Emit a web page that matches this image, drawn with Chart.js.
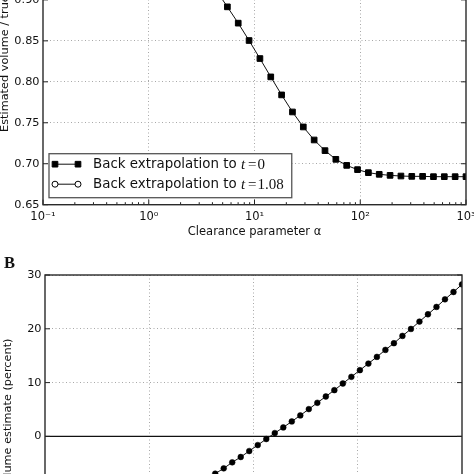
<!DOCTYPE html>
<html><head><meta charset="utf-8">
<script src="https://cdn.jsdelivr.net/npm/chart.js@4.4.0/dist/chart.umd.min.js"></script>
<style>
html,body{margin:0;padding:0;width:474px;height:474px;overflow:hidden;background:#fff;}
#wrapA{position:absolute;left:0;top:-130px;width:474px;height:370px;}
#wrapB{position:absolute;left:0;top:250px;width:474px;height:400px;}
#labB{position:absolute;left:4px;top:255px;font:bold 16.5px "Liberation Serif";line-height:16.5px;color:#111;}
</style></head><body>
<div id="wrapA"><canvas id="cA" width="474" height="370" style="width:474px;height:370px"></canvas></div>
<div id="wrapB"><canvas id="cB" width="474" height="400" style="width:474px;height:400px"></canvas></div>
<div id="labB">B</div>
<script>
// ---------- Panel A data ----------
const alphaA = [0.1,0.1266,0.1604,0.2031,0.2572,0.3257,0.4125,0.5223,0.6615,0.8377,
  1.0608,1.3434,1.7013,2.1544,2.7283,3.4551,4.3755,5.541,7.017,8.886,
  11.253,14.251,18.047,22.855,28.943,36.652,46.416,58.78,74.438,94.267,
  119.38,151.18,191.45,242.45,307.04,388.83,492.39,623.57,789.68,1000];
const volT0 = [0.999,0.999,0.999,0.999,0.999,0.999,0.999,0.998,0.997,0.994,
  0.990,0.984,0.975,0.963,0.948,0.930,0.911,0.8915,0.8716,0.8504,
  0.8284,0.806,0.784,0.7632,0.7449,0.729,0.716,0.7054,0.698,0.6928,
  0.6891,0.6871,0.6858,0.685,0.6846,0.6846,0.6842,0.6842,0.6842,0.6842];
const volT108 = [1.000,1.000,1.000,1.000,0.999,0.999,0.999,0.999,0.998,0.998,
  0.997,0.996,0.995,0.994,0.993,0.991,0.989,0.987,0.985,0.983,
  0.981,0.979,0.977,0.975,0.974,0.972,0.971,0.970,0.969,0.968,
  0.968,0.967,0.967,0.967,0.966,0.966,0.966,0.966,0.966,0.966];
const legendPrefix = ['Back extrapolation to ', 'Back extrapolation to '];
const legendT = ['0', '1.08'];
const yTicksA = {min: 0.65, max: 1.05, step: 0.05};

// ---------- Panel B data ----------
const alphaB = [0.1,0.12068,0.14563,0.17575,0.2121,0.25595,0.30888,0.37276,0.44984,0.54287,
  0.65513,0.7906,0.9541,1.1514,1.3895,1.6768,2.0236,2.4421,2.9471,3.5565,
  4.2919,5.1795,6.2506,7.5431,9.103,10.985,13.257,15.999,19.307,23.3,
  28.118,33.932,40.949,49.417,59.636,71.969,86.851,104.81,126.49,152.64,
  184.21,222.3,268.27,323.75,390.7,471.49,568.99,686.65,828.64,1000];
const errB = [-16.0,-16.0,-16.0,-15.9,-15.9,-15.8,-15.7,-15.6,-15.4,-15.2,
  -14.9,-14.5,-14.0,-13.4,-12.7,-11.9,-11.0,-10.0,-9.0,-8.0,
  -6.93,-5.94,-4.82,-3.83,-2.72,-1.61,-0.49,0.62,1.67,2.78,
  3.90,5.07,6.25,7.42,8.60,9.83,11.07,12.31,13.54,14.78,
  16.08,17.32,18.68,19.97,21.34,22.70,24.06,25.48,26.84,28.26];
const yTicksB = {min: -30, max: 30, step: 10};

// ---------- shared axis labels ----------
const decadeValues = [0.1, 1, 10, 100, 1000];
const decadeLabels = ['10\u207B\u00B9', '10\u2070', '10\u00B9', '10\u00B2', '10\u00B3'];
const mantissas = [2,3,4,5,6,7,8,9];
const xTitle = 'Clearance parameter \u03B1';
const yTitleA = 'Estimated volume / true volume';
const yTitleB = 'Error in volume estimate (percent)';

const FONT = '"DejaVu Sans", sans-serif';
const isDecade = v => Math.abs(Math.log10(v) - Math.round(Math.log10(v))) < 1e-6;
const gridGray = '#a8a8a8';

const framePlugin = {
  id: 'frame',
  beforeDatasetsDraw(chart, args, opts) {
    if (!opts.zeroLine) return;
    const {ctx, chartArea: a, scales: {y}} = chart;
    const py = y.getPixelForValue(0);
    ctx.save();
    ctx.strokeStyle = '#111'; ctx.lineWidth = 1.4;
    ctx.beginPath(); ctx.moveTo(a.left, py); ctx.lineTo(a.right, py); ctx.stroke();
    ctx.restore();
  },
  afterDraw(chart, args, opts) {
    const {ctx, chartArea: a, scales: {x, y}} = chart;
    ctx.save();
    ctx.strokeStyle = '#222'; ctx.lineWidth = 1;
    ctx.beginPath();
    const xs = [];
    decadeValues.forEach(d => xs.push([d, 5]));
    decadeValues.slice(0, -1).forEach(d => mantissas.forEach(m => xs.push([d * m, 2.5])));
    xs.forEach(([v, len]) => {
      const px = x.getPixelForValue(v);
      ctx.moveTo(px, a.bottom); ctx.lineTo(px, a.bottom - len);
      if (opts.topTicks) { ctx.moveTo(px, a.top); ctx.lineTo(px, a.top + len); }
    });
    y.ticks.forEach(t => {
      const py = y.getPixelForValue(t.value);
      ctx.moveTo(a.left, py); ctx.lineTo(a.left + 5, py);
      ctx.moveTo(a.right, py); ctx.lineTo(a.right - 5, py);
    });
    ctx.stroke();
    ctx.strokeStyle = '#2a2a2a'; ctx.lineWidth = 1.4;
    ctx.strokeRect(a.left, a.top, a.right - a.left, a.bottom - a.top);
    ctx.restore();
  }
};

const legendPlugin = {
  id: 'inlegend',
  afterDraw(chart, args, opts) {
    if (!opts.show) return;
    const {ctx, chartArea: a} = chart;
    const ds = chart.data.datasets;
    const sans = '13.4px ' + FONT;
    const serifI = 'italic 15px "Liberation Serif", serif';
    const serif = '15px "Liberation Serif", serif';
    const boxL = a.left + 6, boxB = a.bottom - 7, rowH = 20, boxH = 44;
    const boxT = boxB - boxH;
    ctx.save();
    let maxW = 0;
    const rows = ds.map((d, i) => {
      const m = d.label.match(/^(.*)t=(.*)$/);
      const pre = m[1], val = m[2];
      ctx.font = sans; const w1 = ctx.measureText(pre).width;
      ctx.font = serifI; const w2 = ctx.measureText('t').width;
      ctx.font = serif; const w3 = ctx.measureText('=').width; const w4 = ctx.measureText(val).width;
      const w = w1 + w2 + 3 + w3 + 1 + w4;
      maxW = Math.max(maxW, w);
      return {pre, val, w1, w2, w3};
    });
    const textX = boxL + 44;
    const boxR = textX + maxW + 8;
    ctx.fillStyle = '#fff';
    ctx.fillRect(boxL, boxT, boxR - boxL, boxH);
    ctx.strokeStyle = '#555'; ctx.lineWidth = 1.3;
    ctx.strokeRect(boxL, boxT, boxR - boxL, boxH);
    rows.forEach((r, i) => {
      const d = ds[i];
      const cy = boxT + 10.5 + i * rowH;
      const x0 = boxL + 6, x1 = boxL + 29;
      ctx.strokeStyle = d.borderColor; ctx.lineWidth = d.borderWidth;
      ctx.beginPath(); ctx.moveTo(x0, cy); ctx.lineTo(x1, cy); ctx.stroke();
      [x0, x1].forEach(px => {
        ctx.fillStyle = d.pointBackgroundColor; ctx.strokeStyle = d.pointBorderColor; ctx.lineWidth = 1;
        ctx.beginPath();
        if (d.pointStyle === 'rect') {
          const s = d.pointRadius * Math.SQRT1_2;
          ctx.rect(px - s, cy - s, 2 * s, 2 * s);
        } else {
          ctx.arc(px, cy, d.pointRadius, 0, Math.PI * 2);
        }
        ctx.fill(); ctx.stroke();
      });
      ctx.fillStyle = '#111'; ctx.textBaseline = 'middle'; ctx.textAlign = 'left';
      let tx = textX;
      ctx.font = sans; ctx.fillText(r.pre, tx, cy); tx += r.w1;
      ctx.font = serifI; ctx.fillText('t', tx, cy + 1); tx += r.w2 + 3;
      ctx.font = serif; ctx.fillText('=', tx, cy + 1); tx += r.w3 + 1;
      ctx.fillText(r.val, tx, cy + 1);
    });
    ctx.restore();
  }
};

function xAxis(height, showTitle) {
  return {
    type: 'logarithmic', min: 0.1, max: 1000,
    afterFit(s) { s.height = height; s.paddingLeft = 0; s.paddingRight = 0; },
    border: {display: false, dash: [1, 2.5]},
    grid: {drawTicks: false, lineWidth: 1,
      color: c => (isDecade(c.tick.value) && c.tick.value > 0.1 && c.tick.value < 1000) ? gridGray : 'rgba(0,0,0,0)'},
    ticks: {autoSkip: false, maxRotation: 0, padding: 5, color: '#111', font: {family: FONT, size: 11.5},
      callback: v => { const i = decadeValues.findIndex(d => Math.abs(Math.log10(v) - Math.log10(d)) < 1e-6); return i >= 0 ? decadeLabels[i] : ''; }},
    title: {display: showTitle, text: xTitle, color: '#111', font: {family: FONT, size: 11.5, lineHeight: 1.2}, padding: {top: 0, bottom: 1.2}}
  };
}
function yAxis(width, t, title, titlePad, lh, fmt, gridFn) {
  return {
    type: 'linear', min: t.min, max: t.max,
    afterFit(s) { s.width = width; s.paddingTop = 0; s.paddingBottom = 0; },
    border: {display: false, dash: [1, 2.5]},
    grid: {drawTicks: false, lineWidth: 1, color: gridFn},
    ticks: {stepSize: t.step, padding: 3.5, color: '#111', font: {family: FONT, size: 11.3}, callback: fmt},
    title: {display: true, text: title, color: '#111', font: {family: FONT, size: 11.3, lineHeight: lh}, padding: {top: titlePad, bottom: 0}}
  };
}

new Chart(document.getElementById('cA'), {
  type: 'line',
  data: {
    datasets: [
      {label: legendPrefix[0] + 't=' + legendT[0], data: alphaA.map((a, i) => ({x: a, y: volT0[i]})),
       borderColor: '#111', borderWidth: 1, pointStyle: 'rect', pointRadius: 4,
       pointBackgroundColor: '#000', pointBorderColor: '#000', pointBorderWidth: 1, tension: 0},
      {label: legendPrefix[1] + 't=' + legendT[1], data: alphaA.map((a, i) => ({x: a, y: volT108[i]})),
       borderColor: '#111', borderWidth: 1, pointStyle: 'circle', pointRadius: 3,
       pointBackgroundColor: '#fff', pointBorderColor: '#000', pointBorderWidth: 1, tension: 0}
    ]
  },
  options: {
    responsive: false, animation: false, devicePixelRatio: 1,
    layout: {padding: {left: 0, right: 8, top: 7, bottom: 0}},
    plugins: {legend: {display: false}, tooltip: {enabled: false}, inlegend: {show: true}, frame: {zeroLine: false, topTicks: true}},
    scales: {
      x: xAxis(35.3, true),
      y: yAxis(43, yTicksA, yTitleA, 0, 0.9, v => v.toFixed(2), c => gridGray)
    }
  },
  plugins: [framePlugin, legendPlugin]
});

new Chart(document.getElementById('cB'), {
  type: 'line',
  data: {
    datasets: [
      {label: 'Error', data: alphaB.map((a, i) => ({x: a, y: errB[i]})),
       borderColor: '#111', borderWidth: 1, pointStyle: 'circle', pointRadius: 2.9,
       pointBackgroundColor: '#000', pointBorderColor: '#000', pointBorderWidth: 0.5, tension: 0}
    ]
  },
  options: {
    responsive: false, animation: false, devicePixelRatio: 1,
    layout: {padding: {left: 0, right: 12, top: 25, bottom: 0}},
    plugins: {legend: {display: false}, tooltip: {enabled: false}, inlegend: {show: false}, frame: {zeroLine: true, topTicks: false}},
    scales: {
      x: xAxis(52.2, false),
      y: yAxis(45, yTicksB, yTitleB, 1, 1.2, v => String(Math.round(v)),
        c => (c.tick.value === 0 ? 'rgba(0,0,0,0)' : gridGray))
    }
  },
  plugins: [framePlugin, legendPlugin]
});
</script>
</body></html>
